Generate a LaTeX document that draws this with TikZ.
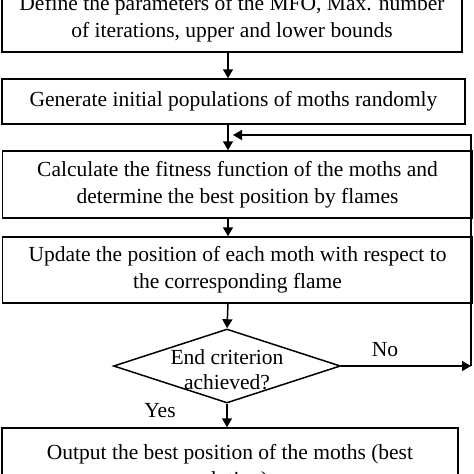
\documentclass[tikz,border=0pt]{standalone}
\usepackage{fontspec}
\setmainfont{Liberation Serif}
\usetikzlibrary{positioning, arrows.meta, shapes.geometric}

\begin{document}
\begin{tikzpicture}[x=1pt, y=-1pt,
  caja/.style={draw=black, line width=1.5pt, align=center, inner sep=0pt,
               font=\fontsize{21.5}{27}\selectfont},
  rombo/.style={draw=black, line width=1.5pt, diamond, inner sep=0pt,
                minimum width=227pt, minimum height=74pt},
  fl/.style={-{Triangle[length=9pt, width=10pt]}, line width=1.5pt},
  et/.style={font=\fontsize{21.5}{25}\selectfont, align=center}]
\useasboundingbox[fill=white] (0,0) rectangle (474,474);
\coordinate (eje) at (228,0);
\node[caja, minimum width=460pt, minimum height=66pt] (def) at (232,19)
  {Define the parameters of the MFO, Max. number\\of iterations, upper and lower bounds};
\node[caja, minimum width=463pt, minimum height=45pt] (gen) at (233.5,101.5)
  {Generate initial populations of moths randomly};
\node[caja, minimum width=470pt, minimum height=67pt] (fit) at (237.5,184.5)
  {Calculate the fitness function of the moths and\\determine the best position by flames};
\node[caja, minimum width=470pt, minimum height=66pt] (upd) at (237.5,270)
  {Update the position of each moth with respect to\\the corresponding flame};
\node[rombo, label={[et, yshift=-4pt]center:End criterion\\achieved?}] (dec) at (227,366) {};
\node[caja, minimum width=456pt, minimum height=80pt] (out) at (230,468)
  {Output the best position of the moths (best\\solution)};
\coordinate (vuelta) at (471,366);
\coordinate (entra) at (233,135);
\draw[fl] (def.south -| eje) -- (gen.north -| eje);
\draw[fl] (gen.south -| eje) -- (fit.north -| eje);
\draw[fl] (fit.south -| eje) -- (upd.north -| eje);
\draw[fl] (upd.south -| eje) -- (dec.north);
\draw[fl] (dec.south) -- (out.north -| dec.south);
\draw[fl] (dec.east) -- (vuelta);
\draw[fl] (vuelta) -- (vuelta |- entra) -- (entra);
\node[et] (no) at (385,350) {No};
\node[et] (yes) at (160,411) {Yes};
\end{tikzpicture}
\end{document}
